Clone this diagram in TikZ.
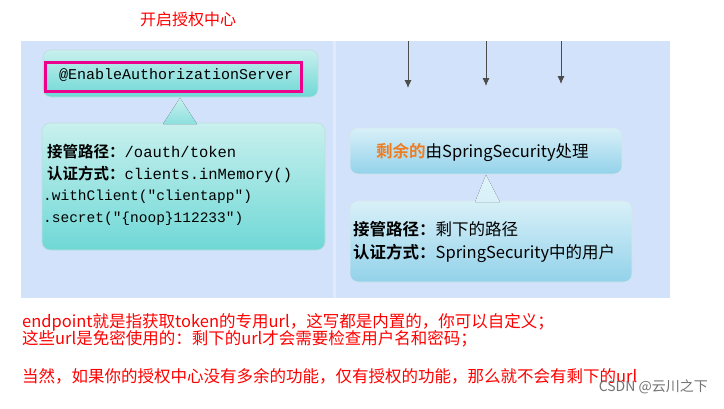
\documentclass[tikz,border=0pt]{standalone}
\usepackage{fontspec}
\setmainfont{Noto Sans CJK SC}
\newfontfamily\cjk{Noto Sans CJK SC}
\newfontfamily\cjkb{Noto Sans CJK SC Bold}
\newfontfamily\monof{Liberation Mono}
\definecolor{bgblue}{HTML}{D3E2FB}
\definecolor{teal1}{HTML}{6FD8D6}
\definecolor{teal2}{HTML}{C8F0EE}
\definecolor{sky1}{HTML}{93D2EA}
\definecolor{sky2}{HTML}{D8F0F8}
\definecolor{orng}{HTML}{F07C22}
\tikzset{
  tealbox/.style={rounded corners=8pt,draw=teal1!80!black!40,top color=teal2,bottom color=teal1,line width=0.6pt},
  skybox/.style={rounded corners=8pt,draw=sky1!80!black!30,top color=sky2,bottom color=sky1,line width=0.6pt},
  txt/.style={anchor=west,inner sep=0pt,font=\fontsize{15.5}{17}\selectfont},
  rtxt/.style={anchor=west,inner sep=0pt,font=\fontsize{16.5}{18}\selectfont},
  mono/.style={anchor=west,inner sep=0pt,font=\monof\fontsize{14.5}{16}\selectfont},
  redtxt/.style={anchor=west,inner sep=0pt,text=red,font=\fontsize{16.5}{18}\selectfont},
  arr/.style={-{Latex[length=8pt,width=7pt]},draw=black!70,line width=0.9pt}
}
\usetikzlibrary{arrows.meta}
\begin{document}
\begin{tikzpicture}[x=1pt,y=-1pt]
\useasboundingbox (0,0) rectangle (724,408);
\fill[white] (0,0) rectangle (724,408);
\fill[bgblue] (21,41) rectangle (670,298);
\fill[white,opacity=0.3] (333,41) rectangle (336,298);
\node[text=red,inner sep=0pt,font=\fontsize{16}{18}\selectfont] (title) at (188,19) {开启授权中心};
% left
\path[tealbox] (43,50) rectangle (318,97);
\node[draw=magenta,line width=2.5pt,minimum width=256pt,minimum height=29pt,anchor=north west,inner sep=0pt] (ann) at (44,61) {};
\node[mono,font=\monof\fontsize{15}{17}\selectfont] at (59,75) {@EnableAuthorizationServer};
\path[tealbox] (42,123) rectangle (325,250);
\fill[top color=teal2,bottom color=teal1!80] (163,124) -- (180,98) -- (197,124) -- cycle;
\node[txt] at (47,152) {{\cjkb 接管路径：}{\monof /oauth/token}};
\node[txt] at (47,174) {{\cjkb 认证方式：}{\monof clients.inMemory()}};
\node[mono] at (43,197) {.withClient("clientapp")};
\node[mono] at (43,219) {.secret("\{noop\}112233")};
% right
\coordinate (a1) at (408,41); \coordinate (b1) at (408,88);
\coordinate (a2) at (486,41); \coordinate (b2) at (486,86);
\coordinate (a3) at (561,41); \coordinate (b3) at (561,84);
\draw[arr] (a1) -- (b1); \draw[arr] (a2) -- (b2); \draw[arr] (a3) -- (b3);
\path[skybox] (350,128) rectangle (622,174);
\node[rtxt] at (376,152) {{\cjkb\color{orng}剩余的}由SpringSecurity处理};
\path[skybox] (350,201) rectangle (632,282);
\fill[top color=sky2!80,bottom color=sky2] (475,202) -- (486,175) -- (500,202) -- cycle;
\node[rtxt] at (353,229) {{\cjkb 接管路径：}剩下的路径};
\node[rtxt] at (353,253) {{\cjkb 认证方式：}SpringSecurity中的用户};
% bottom
\node[redtxt] at (22,322) {endpoint就是指获取token的专用url，这写都是内置的，你可以自定义；};
\node[redtxt] at (22,339) {这些url是免密使用的：剩下的url才会需要检查用户名和密码；};
\node[redtxt] at (22,376) {当然，如果你的授权中心没有多余的功能，仅有授权的功能，那么就不会有剩下的url};
\node[anchor=east,inner sep=0pt,text=black!55,font=\fontsize{14}{16}\selectfont] at (708,387) {CSDN @云川之下};
\end{tikzpicture}
\end{document}
